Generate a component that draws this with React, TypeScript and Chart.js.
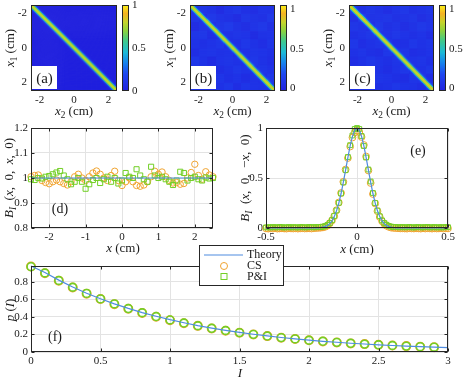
import React, { useEffect, useRef } from "react";
import { Chart, registerables } from "chart.js";

Chart.register(...registerables);

const SERIF = "'Liberation Serif', 'DejaVu Serif', serif";
const INK = "#1a1a1a";
const AXIS = "#262626";
const GRID = "#e3e3e3";
const ORANGE = "#F0A431";
const GREEN = "#72CF26";
const BLUE = "#4F8CE0";

// ---------- (a)-(c) heat maps ----------
const heatRange = [-2.5, 2.5];
const heatTicks = [-2, 0, 2];
const heatCells = 85;
const heatDiagProfile = [0.8, 0.78, 0.64, 0.36, 0.13, 0.04, 0.01];
const heatNoiseB = [
  [0.05, 0.08, 0.06, 0.03, 0.07, 0.09, 0.05, 0.04, 0.07, 0.06],
  [0.07, 0.04, 0.09, 0.06, 0.05, 0.03, 0.08, 0.06, 0.05, 0.09],
  [0.03, 0.06, 0.05, 0.08, 0.1, 0.06, 0.04, 0.07, 0.09, 0.05],
  [0.08, 0.09, 0.04, 0.05, 0.06, 0.08, 0.07, 0.03, 0.06, 0.07],
  [0.06, 0.05, 0.07, 0.09, 0.04, 0.05, 0.09, 0.06, 0.04, 0.08],
  [0.04, 0.07, 0.08, 0.06, 0.07, 0.03, 0.06, 0.08, 0.07, 0.05],
  [0.09, 0.06, 0.03, 0.07, 0.08, 0.06, 0.05, 0.09, 0.06, 0.04],
  [0.05, 0.08, 0.06, 0.04, 0.06, 0.09, 0.07, 0.05, 0.08, 0.06],
  [0.07, 0.04, 0.09, 0.08, 0.05, 0.07, 0.04, 0.06, 0.05, 0.09],
  [0.06, 0.07, 0.05, 0.06, 0.09, 0.04, 0.08, 0.07, 0.06, 0.05],
];
const heatNoiseC = [
  [0.07, 0.05, 0.08, 0.06, 0.04, 0.07, 0.09, 0.05, 0.06, 0.08],
  [0.04, 0.09, 0.06, 0.07, 0.08, 0.05, 0.06, 0.08, 0.04, 0.06],
  [0.08, 0.06, 0.04, 0.09, 0.05, 0.07, 0.04, 0.06, 0.09, 0.07],
  [0.05, 0.07, 0.09, 0.05, 0.06, 0.09, 0.07, 0.05, 0.07, 0.04],
  [0.09, 0.04, 0.06, 0.08, 0.07, 0.04, 0.05, 0.09, 0.06, 0.08],
  [0.06, 0.08, 0.05, 0.04, 0.09, 0.06, 0.08, 0.04, 0.05, 0.07],
  [0.04, 0.06, 0.09, 0.07, 0.05, 0.08, 0.06, 0.07, 0.08, 0.05],
  [0.08, 0.05, 0.07, 0.06, 0.04, 0.07, 0.09, 0.05, 0.06, 0.09],
  [0.06, 0.09, 0.04, 0.08, 0.07, 0.05, 0.04, 0.08, 0.07, 0.04],
  [0.05, 0.06, 0.08, 0.05, 0.06, 0.09, 0.07, 0.06, 0.04, 0.07],
];
const colorbarTicks = [0, 0.5, 1];
const colorbarLimitsA = [0, 1];
const colorbarLimitsB = [-0.035, 1.055];
const colorbarLimitsC = [-0.035, 1.055];

// ---------- (d) ----------
const dX = [-2.5, -2.4, -2.3, -2.2, -2.1, -2, -1.9, -1.8, -1.7, -1.6, -1.5, -1.4, -1.3, -1.2, -1.1, -1, -0.9, -0.8, -0.7, -0.6, -0.5, -0.4, -0.3, -0.2, -0.1, 0, 0.1, 0.2, 0.3, 0.4, 0.5, 0.6, 0.7, 0.8, 0.9, 1, 1.1, 1.2, 1.3, 1.4, 1.5, 1.6, 1.7, 1.8, 1.9, 2, 2.1, 2.2, 2.3, 2.4, 2.5];
const dCS = [1.005, 1.01, 1.012, 0.99, 0.982, 0.977, 0.985, 0.992, 0.985, 0.978, 0.972, 0.985, 1.005, 1.015, 1.0, 0.99, 1.005, 1.02, 1.028, 1.015, 1.0, 0.99, 1.01, 1.027, 0.99, 0.97, 0.985, 1.0, 0.985, 0.97, 0.967, 0.972, 0.985, 1.005, 1.027, 1.015, 1.024, 1.005, 0.99, 0.98, 0.982, 0.975, 0.978, 1.0, 1.022, 1.055, 1.01, 0.995, 1.025, 1.012, 1.005];
const dPI = [0.995, 0.992, 1.0, 0.998, 1.005, 1.008, 1.015, 1.022, 1.028, 1.01, 0.995, 0.975, 0.985, 1.0, 0.985, 0.957, 0.975, 0.992, 1.0, 0.98, 0.995, 1.005, 0.985, 1.0, 0.978, 0.99, 1.02, 1.005, 1.0, 1.035, 1.01, 0.995, 0.985, 1.045, 1.01, 1.0, 1.005, 0.995, 0.985, 0.972, 0.99, 1.025, 1.02, 0.99, 1.0, 1.005, 0.995, 0.99, 1.002, 0.998, 1.0];
const dTheoryX = [-2.5, 2.5];
const dTheory = [1, 1];
const dXTicks = [-2, -1, 0, 1, 2];
const dYTicks = [0.8, 0.9, 1, 1.1, 1.2];

// ---------- (e) ----------
const eX = [-0.5, -0.4875, -0.475, -0.4625, -0.45, -0.4375, -0.425, -0.4125, -0.4, -0.3875, -0.375, -0.3625, -0.35, -0.3375, -0.325, -0.3125, -0.3, -0.2875, -0.275, -0.2625, -0.25, -0.2375, -0.225, -0.2125, -0.2, -0.1875, -0.175, -0.1625, -0.15, -0.1375, -0.125, -0.1125, -0.1, -0.0875, -0.075, -0.0625, -0.05, -0.0375, -0.025, -0.0125, 0, 0.0125, 0.025, 0.0375, 0.05, 0.0625, 0.075, 0.0875, 0.1, 0.1125, 0.125, 0.1375, 0.15, 0.1625, 0.175, 0.1875, 0.2, 0.2125, 0.225, 0.2375, 0.25, 0.2625, 0.275, 0.2875, 0.3, 0.3125, 0.325, 0.3375, 0.35, 0.3625, 0.375, 0.3875, 0.4, 0.4125, 0.425, 0.4375, 0.45, 0.4625, 0.475, 0.4875, 0.5];
const eTheory = [0, 0, 0, 0, 0, 0, 0, 0, 0, 0, 0, 0, 0, 0, 0, 0, 0, 0, 0, 0, 0, 0, 0.001, 0.002, 0.004, 0.008, 0.014, 0.026, 0.044, 0.072, 0.114, 0.172, 0.249, 0.345, 0.458, 0.581, 0.707, 0.823, 0.917, 0.979, 1.0, 0.979, 0.917, 0.823, 0.707, 0.581, 0.458, 0.345, 0.249, 0.172, 0.114, 0.072, 0.044, 0.026, 0.014, 0.008, 0.004, 0.002, 0.001, 0, 0, 0, 0, 0, 0, 0, 0, 0, 0, 0, 0, 0, 0, 0, 0, 0, 0, 0, 0, 0, 0];
const eCS = [-0.004, -0.006, -0.003, -0.005, -0.002, -0.006, -0.004, -0.003, -0.005, -0.006, -0.002, -0.004, -0.005, -0.003, -0.006, -0.004, -0.002, -0.005, -0.004, -0.003, -0.005, -0.002, 0.0, 0.001, 0.003, 0.006, 0.012, 0.024, 0.046, 0.075, 0.118, 0.178, 0.255, 0.35, 0.462, 0.585, 0.7, 0.815, 0.905, 0.955, 0.975, 0.96, 0.91, 0.83, 0.715, 0.575, 0.45, 0.34, 0.245, 0.168, 0.11, 0.068, 0.042, 0.022, 0.011, 0.004, 0.001, -0.001, -0.002, -0.004, -0.003, -0.005, -0.006, -0.002, -0.004, -0.005, -0.003, -0.004, -0.006, -0.003, -0.005, -0.002, -0.004, -0.006, -0.003, -0.005, -0.004, -0.002, -0.005, -0.003, -0.004];
const ePI = [0.006, 0.008, 0.005, 0.009, 0.007, 0.006, 0.01, 0.008, 0.005, 0.007, 0.009, 0.006, 0.008, 0.007, 0.005, 0.009, 0.008, 0.006, 0.007, 0.01, 0.008, 0.007, 0.008, 0.009, 0.01, 0.013, 0.019, 0.03, 0.05, 0.078, 0.12, 0.176, 0.252, 0.345, 0.455, 0.578, 0.71, 0.828, 0.925, 0.99, 1.0, 0.99, 0.92, 0.82, 0.705, 0.585, 0.465, 0.35, 0.25, 0.175, 0.118, 0.076, 0.05, 0.032, 0.02, 0.014, 0.01, 0.009, 0.008, 0.007, 0.009, 0.006, 0.008, 0.01, 0.007, 0.005, 0.008, 0.009, 0.006, 0.007, 0.008, 0.01, 0.006, 0.007, 0.009, 0.005, 0.008, 0.007, 0.006, 0.009, 0.008];
const eXTicks = [-0.5, 0, 0.5];
const eYTicks = [0, 0.5, 1];

// ---------- (f) ----------
const fI = [0, 0.1, 0.2, 0.3, 0.4, 0.5, 0.6, 0.7, 0.8, 0.9, 1, 1.1, 1.2, 1.3, 1.4, 1.5, 1.6, 1.7, 1.8, 1.9, 2, 2.1, 2.2, 2.3, 2.4, 2.5, 2.6, 2.7, 2.8, 2.9];
const fCS = [0.975, 0.898, 0.813, 0.735, 0.665, 0.603, 0.545, 0.492, 0.445, 0.402, 0.362, 0.328, 0.298, 0.268, 0.242, 0.219, 0.2, 0.181, 0.163, 0.148, 0.133, 0.121, 0.109, 0.098, 0.09, 0.082, 0.074, 0.067, 0.06, 0.055];
const fPI = [0.972, 0.9, 0.815, 0.738, 0.668, 0.605, 0.548, 0.495, 0.447, 0.404, 0.365, 0.33, 0.299, 0.27, 0.245, 0.221, 0.201, 0.182, 0.164, 0.149, 0.134, 0.122, 0.11, 0.099, 0.09, 0.082, 0.074, 0.067, 0.061, 0.055];
const fTheoryI = [0, 0.1, 0.2, 0.3, 0.4, 0.5, 0.6, 0.7, 0.8, 0.9, 1, 1.1, 1.2, 1.3, 1.4, 1.5, 1.6, 1.7, 1.8, 1.9, 2, 2.1, 2.2, 2.3, 2.4, 2.5, 2.6, 2.7, 2.8, 2.9, 3];
const fTheory = [0.98, 0.905, 0.819, 0.741, 0.67, 0.607, 0.549, 0.497, 0.449, 0.407, 0.368, 0.333, 0.301, 0.273, 0.247, 0.223, 0.202, 0.183, 0.165, 0.15, 0.135, 0.122, 0.111, 0.1, 0.091, 0.082, 0.074, 0.067, 0.061, 0.055, 0.05];
const fXTicks = [0, 0.5, 1, 1.5, 2, 2.5, 3];
const fYTicks = [0, 0.2, 0.4, 0.6, 0.8];
const legendLabels = ["Theory", "CS", "P&I"];

// ---------- layout (page pixels) ----------
const SPEC_A = { x: 0, y: 0, w: 150, h: 118, L: 31, T: 5, R: 117, B: 91 };
const SPEC_B = { x: 158, y: 0, w: 150, h: 118, L: 190, T: 5, R: 275, B: 91 };
const SPEC_C = { x: 316, y: 0, w: 158, h: 118, L: 349, T: 5, R: 434, B: 91 };
const SPEC_D = { x: 0, y: 120, w: 222, h: 135, L: 31, T: 128, R: 213, B: 228 };
const SPEC_E = { x: 236, y: 120, w: 238, h: 135, L: 266, T: 128, R: 448, B: 228 };
const SPEC_F = { x: 0, y: 240, w: 474, h: 140, L: 31, T: 266, R: 448, B: 352 };

const CMAP: [number, number[]][] = [
  [0, [34, 34, 222]],
  [0.2, [30, 72, 240]],
  [0.33, [22, 132, 236]],
  [0.45, [28, 186, 214]],
  [0.58, [62, 200, 140]],
  [0.7, [140, 210, 62]],
  [0.8, [198, 212, 42]],
  [0.9, [245, 178, 36]],
  [1, [250, 244, 22]],
];

function heatColor(t: number) {
  const c = Math.min(1, Math.max(0, t));
  for (let k = 1; k < CMAP.length; k++) {
    if (c <= CMAP[k][0]) {
      const [t0, a] = CMAP[k - 1];
      const [t1, b] = CMAP[k];
      const f = (c - t0) / (t1 - t0);
      const r = Math.round(a[0] + (b[0] - a[0]) * f);
      const g = Math.round(a[1] + (b[1] - a[1]) * f);
      const bl = Math.round(a[2] + (b[2] - a[2]) * f);
      return `rgb(${r},${g},${bl})`;
    }
  }
  return "rgb(250,244,22)";
}

type Seg = { t: string; it?: boolean; sub?: boolean };

function drawRich(ctx: any, segs: Seg[], cx: number, cy: number, size: number, rot = false) {
  const parts = segs.map((s) => {
    const fs = s.sub ? size * 0.72 : size;
    const font = `${s.it ? "italic " : ""}${fs}px ${SERIF}`;
    ctx.font = font;
    return { s, font, w: ctx.measureText(s.t).width };
  });
  const total = parts.reduce((a, p) => a + p.w, 0);
  ctx.save();
  ctx.translate(cx, cy);
  if (rot) ctx.rotate(-Math.PI / 2);
  ctx.fillStyle = INK;
  ctx.textAlign = "left";
  ctx.textBaseline = "alphabetic";
  let x = -total / 2;
  const base = size * 0.35;
  for (const p of parts) {
    ctx.font = p.font;
    ctx.fillText(p.s.t, x, base + (p.s.sub ? size * 0.24 : 0));
    x += p.w;
  }
  ctx.restore();
}

function linAxis(kind: string, ticks: number[], min: number, max: number, size: number, opts: any = {}) {
  return {
    type: "linear",
    axis: kind,
    position: opts.position || (kind === "x" ? "bottom" : "left"),
    min,
    max,
    reverse: !!opts.reverse,
    afterBuildTicks: (s: any) => {
      s.ticks = ticks.map((v) => ({ value: v }));
    },
    afterFit: (s: any) => {
      if (kind === "x") s.height = size;
      else s.width = size;
      s.paddingLeft = 0;
      s.paddingRight = 0;
      s.paddingTop = 0;
      s.paddingBottom = 0;
    },
    ticks: {
      autoSkip: false,
      maxRotation: 0,
      minRotation: 0,
      padding: opts.pad != null ? opts.pad : 3,
      color: INK,
      font: { family: SERIF, size: 11 },
      callback: (v: any) => String(v),
    },
    grid: { display: !!opts.grid, color: GRID, lineWidth: 1, drawTicks: false },
    border: { display: false },
  };
}

function drawFrame(chart: any, innerTicks: boolean) {
  const { ctx, chartArea: ca } = chart;
  ctx.save();
  ctx.strokeStyle = AXIS;
  ctx.lineWidth = 1;
  const l = Math.round(ca.left) + 0.5;
  const t = Math.round(ca.top) + 0.5;
  const r = Math.round(ca.right) - 0.5;
  const b = Math.round(ca.bottom) - 0.5;
  ctx.strokeRect(l, t, r - l, b - t);
  if (innerTicks) {
    const xs = chart.scales.x;
    const ys = chart.scales.y;
    const len = 3;
    ctx.beginPath();
    for (const tk of xs.ticks) {
      const px = Math.round(xs.getPixelForValue(tk.value)) + 0.5;
      ctx.moveTo(px, b);
      ctx.lineTo(px, b - len);
      ctx.moveTo(px, t);
      ctx.lineTo(px, t + len);
    }
    for (const tk of ys.ticks) {
      const py = Math.round(ys.getPixelForValue(tk.value)) + 0.5;
      ctx.moveTo(l, py);
      ctx.lineTo(l + len, py);
      ctx.moveTo(r, py);
      ctx.lineTo(r - len, py);
    }
    ctx.stroke();
  }
  ctx.restore();
}

function baseOptions(spec: any, rightPad: number) {
  return {
    animation: false,
    responsive: false,
    maintainAspectRatio: false,
    devicePixelRatio: 1,
    events: [],
    layout: { padding: { left: 0, top: spec.T - spec.y, right: rightPad, bottom: 0 } },
    plugins: { legend: { display: false }, tooltip: { enabled: false }, title: { display: false } },
  };
}

function makeHeat(spec: any, noise: number[][] | null, limits: number[], tag: string) {
  const [cmin, cmax] = limits;
  const ox = spec.x;
  const oy = spec.y;
  const cx = (spec.L + spec.R) / 2;
  const cy = (spec.T + spec.B) / 2;
  const plugin = {
    id: "heat" + tag,
    beforeDatasetsDraw(chart: any) {
      const { ctx, chartArea: ca } = chart;
      const xs = chart.scales.x;
      const ys = chart.scales.y;
      const n = heatCells;
      const lo = heatRange[0];
      const step = (heatRange[1] - heatRange[0]) / n;
      const xe: number[] = [];
      const ye: number[] = [];
      for (let k = 0; k <= n; k++) {
        xe.push(xs.getPixelForValue(lo + k * step));
        ye.push(ys.getPixelForValue(lo + k * step));
      }
      ctx.save();
      ctx.beginPath();
      ctx.rect(ca.left, ca.top, ca.right - ca.left, ca.bottom - ca.top);
      ctx.clip();
      for (let i = 0; i < n; i++) {
        for (let j = 0; j < n; j++) {
          const d = Math.abs(i - j);
          const bg = noise ? noise[Math.floor((i * noise.length) / n)][Math.floor((j * noise[0].length) / n)] : 0;
          const v = bg + (d < heatDiagProfile.length ? heatDiagProfile[d] : 0);
          ctx.fillStyle = heatColor((v - cmin) / (cmax - cmin));
          const x0 = Math.min(xe[j], xe[j + 1]);
          const y0 = Math.min(ye[i], ye[i + 1]);
          ctx.fillRect(x0, y0, Math.abs(xe[j + 1] - xe[j]) + 0.6, Math.abs(ye[i + 1] - ye[i]) + 0.6);
        }
      }
      ctx.restore();
    },
    afterDraw(chart: any) {
      const { ctx, chartArea: ca } = chart;
      drawFrame(chart, false);
      // colorbar
      const cb = chart.scales.cb;
      const bx = Math.round(ca.right) + 5;
      const bw = 7;
      for (let py = Math.round(ca.top); py < Math.round(ca.bottom); py++) {
        const v = cb.getValueForPixel(py + 0.5);
        ctx.fillStyle = heatColor((v - cmin) / (cmax - cmin));
        ctx.fillRect(bx, py, bw, 1);
      }
      ctx.save();
      ctx.strokeStyle = AXIS;
      ctx.lineWidth = 1;
      ctx.strokeRect(bx + 0.5, Math.round(ca.top) + 0.5, bw - 1, Math.round(ca.bottom) - Math.round(ca.top) - 1);
      ctx.restore();
      // panel tag box
      ctx.fillStyle = "#ffffff";
      ctx.fillRect(ca.left + 1, ca.bottom - 25, 25, 23);
      drawRich(ctx, [{ t: "(" + tag + ")" }], ca.left + 13.5, ca.bottom - 13.5, 15);
      // axis titles
      drawRich(ctx, [{ t: "x", it: true }, { t: "2", sub: true }, { t: " (cm)" }], cx - ox, 110 - oy, 13);
      drawRich(ctx, [{ t: "x", it: true }, { t: "1", sub: true }, { t: " (cm)" }], spec.L - 22 - ox, cy - oy, 13, true);
    },
  };
  return {
    type: "scatter",
    data: { datasets: [] },
    options: {
      ...baseOptions(spec, 0),
      scales: {
        x: linAxis("x", heatTicks, heatRange[0], heatRange[1], spec.y + spec.h - spec.B, { pad: 3 }),
        y: linAxis("y", heatTicks, heatRange[0], heatRange[1], spec.L - spec.x, { reverse: true, pad: 4 }),
        cb: linAxis("y", colorbarTicks, cmin, cmax, spec.x + spec.w - spec.R, { position: "right", pad: 15 }),
      },
    },
    plugins: [plugin],
  };
}

function pts(xs: number[], ys: number[]) {
  return xs.map((x, i) => ({ x, y: ys[i] }));
}

function theorySet(data: any[]) {
  return { label: "Theory", data, showLine: true, pointRadius: 0, borderColor: BLUE, backgroundColor: BLUE, borderWidth: 1.2, clip: false };
}
function markerSet(label: string, data: any[], style: string, color: string, radius: number, width: number) {
  return {
    label,
    data,
    showLine: false,
    pointStyle: style,
    pointRadius: radius,
    pointBorderWidth: width,
    pointBorderColor: color,
    pointBackgroundColor: "rgba(0,0,0,0)",
    borderColor: color,
    backgroundColor: "rgba(0,0,0,0)",
    clip: false,
  };
}

function makeD(spec: any) {
  const ox = spec.x, oy = spec.y;
  return {
    type: "scatter",
    data: {
      datasets: [
        theorySet(pts(dTheoryX, dTheory)),
        markerSet("P&I", pts(dX, dPI), "rect", GREEN, 3.6, 1),
        markerSet("CS", pts(dX, dCS), "circle", ORANGE, 3.2, 1),
      ],
    },
    options: {
      ...baseOptions(spec, spec.x + spec.w - spec.R),
      scales: {
        x: linAxis("x", dXTicks, -2.5, 2.5, spec.y + spec.h - spec.B, { grid: true }),
        y: linAxis("y", dYTicks, 0.8, 1.2, spec.L - spec.x, { grid: true }),
      },
    },
    plugins: [
      {
        id: "frameD",
        afterDraw(chart: any) {
          const ctx = chart.ctx;
          drawFrame(chart, true);
          drawRich(ctx, [{ t: "(d)" }], 60 - ox, 208 - oy, 14);
          drawRich(ctx, [{ t: "x", it: true }, { t: " (cm)" }], 123 - ox, 247 - oy, 13);
          drawRich(
            ctx,
            [{ t: "B", it: true }, { t: "I", it: true, sub: true }, { t: "  (" }, { t: "x", it: true }, { t: ",  0,  " }, { t: "x", it: true }, { t: ",  0)" }],
            8 - ox,
            178 - oy,
            13,
            true
          );
        },
      },
    ],
  };
}

function makeE(spec: any) {
  const ox = spec.x, oy = spec.y;
  return {
    type: "scatter",
    data: {
      datasets: [
        theorySet(pts(eX, eTheory)),
        markerSet("P&I", pts(eX, ePI), "rect", GREEN, 3.4, 1),
        markerSet("CS", pts(eX, eCS), "circle", ORANGE, 3.4, 1),
      ],
    },
    options: {
      ...baseOptions(spec, spec.x + spec.w - spec.R),
      scales: {
        x: linAxis("x", eXTicks, -0.5, 0.5, spec.y + spec.h - spec.B, { grid: true }),
        y: linAxis("y", eYTicks, 0, 1, spec.L - spec.x, { grid: true }),
      },
    },
    plugins: [
      {
        id: "frameE",
        afterDraw(chart: any) {
          const ctx = chart.ctx;
          drawFrame(chart, true);
          drawRich(ctx, [{ t: "(e)" }], 418 - ox, 150 - oy, 14);
          drawRich(ctx, [{ t: "x", it: true }, { t: " (cm)" }], 357 - ox, 248 - oy, 13);
          drawRich(
            ctx,
            [{ t: "B", it: true }, { t: "I", it: true, sub: true }, { t: "  (" }, { t: "x", it: true }, { t: ",  0,  \u2212" }, { t: "x", it: true }, { t: ",  0)" }],
            244 - ox,
            178 - oy,
            13,
            true
          );
        },
      },
    ],
  };
}

function makeF(spec: any) {
  const ox = spec.x, oy = spec.y;
  return {
    type: "scatter",
    data: {
      datasets: [
        theorySet(pts(fTheoryI, fTheory)),
        markerSet("P&I", pts(fI, fPI), "circle", GREEN, 3.9, 1.6),
        markerSet("CS", pts(fI, fCS), "circle", ORANGE, 4.3, 1.4),
      ],
    },
    options: {
      ...baseOptions(spec, spec.x + spec.w - spec.R),
      scales: {
        x: linAxis("x", fXTicks, 0, 3, spec.y + spec.h - spec.B, { grid: true }),
        y: linAxis("y", fYTicks, 0, 0.98, spec.L - spec.x, { grid: true }),
      },
    },
    plugins: [
      {
        id: "frameF",
        afterDraw(chart: any) {
          const ctx = chart.ctx;
          drawFrame(chart, true);
          drawRich(ctx, [{ t: "(f)" }], 55 - ox, 336 - oy, 14);
          drawRich(ctx, [{ t: "I", it: true }], 240 - ox, 372 - oy, 13);
          drawRich(ctx, [{ t: "p", it: true }, { t: " (" }, { t: "I", it: true }, { t: ")" }], 9 - ox, 310 - oy, 13, true);
          // legend
          ctx.save();
          ctx.fillStyle = "#ffffff";
          ctx.fillRect(199 - ox, 245 - oy, 85, 41);
          ctx.strokeStyle = AXIS;
          ctx.lineWidth = 1;
          ctx.strokeRect(199.5 - ox, 245.5 - oy, 84, 40);
          ctx.strokeStyle = BLUE;
          ctx.lineWidth = 1.2;
          ctx.beginPath();
          ctx.moveTo(204 - ox, 255 - oy);
          ctx.lineTo(243 - ox, 255 - oy);
          ctx.stroke();
          ctx.strokeStyle = ORANGE;
          ctx.lineWidth = 1;
          ctx.beginPath();
          ctx.arc(224 - ox, 266 - oy, 3.5, 0, Math.PI * 2);
          ctx.stroke();
          ctx.strokeStyle = GREEN;
          ctx.strokeRect(221 - ox, 273.5 - oy, 6, 6);
          ctx.fillStyle = INK;
          ctx.font = `12px ${SERIF}`;
          ctx.textAlign = "left";
          ctx.textBaseline = "middle";
          ctx.fillText(legendLabels[0], 247 - ox, 255 - oy);
          ctx.fillText(legendLabels[1], 247 - ox, 266 - oy);
          ctx.fillText(legendLabels[2], 247 - ox, 277 - oy);
          ctx.restore();
        },
      },
    ],
  };
}

function ChartPanel({ spec, build }: { spec: any; build: (s: any) => any }) {
  const ref = useRef<HTMLCanvasElement>(null);
  useEffect(() => {
    const chart = new Chart(ref.current as HTMLCanvasElement, build(spec));
    return () => chart.destroy();
  }, []);
  return (
    <canvas
      ref={ref}
      width={spec.w}
      height={spec.h}
      style={{ position: "absolute", left: spec.x, top: spec.y, width: spec.w, height: spec.h }}
    />
  );
}

export default function App() {
  return (
    <div style={{ position: "absolute", left: 0, top: 0, width: 474, height: 380, background: "#ffffff", overflow: "hidden" }}>
      <ChartPanel spec={SPEC_A} build={(s) => makeHeat(s, null, colorbarLimitsA, "a")} />
      <ChartPanel spec={SPEC_B} build={(s) => makeHeat(s, heatNoiseB, colorbarLimitsB, "b")} />
      <ChartPanel spec={SPEC_C} build={(s) => makeHeat(s, heatNoiseC, colorbarLimitsC, "c")} />
      <ChartPanel spec={SPEC_D} build={makeD} />
      <ChartPanel spec={SPEC_E} build={makeE} />
      <ChartPanel spec={SPEC_F} build={makeF} />
    </div>
  );
}
